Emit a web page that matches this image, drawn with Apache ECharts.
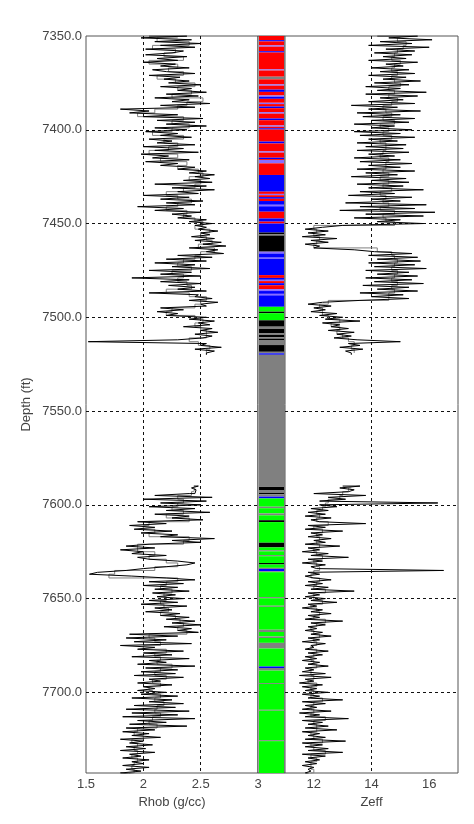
<!DOCTYPE html>
<html><head><meta charset="utf-8">
<script src="https://cdn.jsdelivr.net/npm/echarts@6/dist/echarts.min.js"></script>
<style>html,body{margin:0;padding:0;background:#fff}#c{width:474px;height:824px}</style>
</head><body><div id="c"></div>
<script>
// Depth range (ft)
const depthMin = 7350, depthMax = 7743, depthTickStep = 50;
const rhobTicks = [1.5, 2, 2.5, 3];
const zeffTicks = [12, 14, 16];

// Rhob (g/cc), black curve, 1 ft steps from 7350 to 7520, then from 7590 to 7745
const rhobUpperStart = 7350;
const rhobUpper = [
2.05,2.38,1.98,2.42,2.10,2.50,2.15,2.45,2.02,2.35,
2.25,2.02,2.38,2.12,2.30,2.00,2.28,2.15,2.40,2.08,
2.20,2.45,2.05,2.32,2.18,2.40,2.22,2.50,2.15,2.42,
2.30,2.55,2.20,2.48,2.10,2.40,2.25,2.58,2.15,2.45,
1.80,2.05,1.88,2.30,2.00,2.52,2.12,2.45,2.20,2.55,
2.10,2.38,2.02,2.30,2.15,2.42,2.05,2.25,2.12,2.45,
2.00,2.35,2.10,2.48,1.98,2.22,2.08,2.40,2.02,2.30,
2.15,2.45,2.30,2.55,2.40,2.62,2.45,2.58,2.35,2.60,
2.10,2.55,2.25,2.62,2.30,2.48,2.00,2.40,2.15,2.52,
2.20,2.45,1.95,2.35,2.10,2.50,2.25,2.42,2.30,2.55,
2.40,2.60,2.45,2.55,2.48,2.65,2.50,2.58,2.42,2.62,
2.45,2.68,2.52,2.72,2.40,2.65,2.55,2.70,2.30,2.60,
2.20,2.55,2.10,2.45,2.25,2.58,2.05,2.42,2.15,2.50,
1.90,2.40,2.15,2.50,2.22,2.45,2.30,2.55,2.05,2.48,
2.45,2.60,2.40,2.65,2.50,2.55,2.15,2.35,2.12,2.30,
2.20,2.55,2.40,2.62,2.48,2.58,2.35,2.60,2.50,2.65,
2.45,2.60,2.52,2.30,1.52,2.55,2.50,2.68,2.45,2.62,
2.55];
const rhobLowerStart = 7590;
const rhobLower = [
2.44,2.48,2.42,2.46,2.45,2.40,2.10,2.60,2.00,2.55,
2.15,2.50,2.05,2.45,2.20,2.58,2.10,2.40,2.25,2.52,
1.95,2.20,1.88,2.10,1.92,2.25,1.98,2.30,2.15,2.62,
2.25,2.50,2.05,1.85,2.10,1.80,2.00,1.90,2.20,1.95,
2.05,2.30,2.45,2.38,2.20,2.00,1.85,1.60,1.53,1.90,
2.20,2.45,2.05,2.35,2.00,2.30,2.10,2.40,2.08,2.28,
2.12,2.35,2.05,2.30,1.98,2.38,2.10,2.25,2.02,2.32,
2.15,2.40,2.20,2.45,2.25,2.50,2.18,2.42,2.30,2.48,
1.88,2.30,1.85,2.20,1.92,2.42,1.80,2.10,1.95,2.35,
2.00,2.25,1.90,2.40,2.05,2.20,1.95,2.45,2.02,2.30,
1.98,2.28,1.92,2.35,2.05,2.15,1.95,2.25,2.00,2.10,
1.95,2.20,1.98,2.30,1.90,2.25,2.05,2.35,1.92,2.28,
1.85,2.40,1.90,2.30,1.82,2.45,1.95,2.20,1.88,2.38,
1.85,2.10,1.82,2.05,1.90,2.15,1.80,2.00,1.88,2.08,
1.85,2.02,1.80,2.10,1.88,1.98,1.82,2.05,1.90,2.00,
1.82,2.05,1.85,1.98,1.80,1.95];

// Rhob, gray curve, 2 ft steps
const rhobGrayUpperStart = 7351;
const rhobGrayUpper = [
2.30,2.12,2.40,2.08,2.28, 2.18,2.35,2.05,2.30,2.22, 2.35,2.12,2.28,2.45,2.30,
2.42,2.25,2.52,2.38,2.30, 2.10,1.95,2.35,2.25,2.40, 2.25,2.08,2.35,2.18,2.30,
2.22,2.05,2.30,2.15,2.38, 2.30,2.48,2.52,2.40,2.50, 2.45,2.35,2.20,2.30,2.42,
2.30,2.20,2.38,2.35,2.45, 2.52,2.45,2.58,2.50,2.55, 2.60,2.48,2.62,2.50,2.45,
2.35,2.30,2.42,2.25,2.35, 2.30,2.38,2.42,2.20,2.40, 2.55,2.50,2.45,2.25,2.20,
2.45,2.52,2.45,2.50,2.55, 2.55,2.40,2.48,2.58,2.55];
const rhobGrayLowerStart = 7591;
const rhobGrayLower = [
2.45,2.44,2.42,2.30,2.35, 2.30,2.25,2.35,2.20,2.40, 2.05,2.00,2.10,2.05,2.40,
2.35,1.95,1.95,2.10,2.05, 2.20,2.30,2.10,1.75,1.70, 2.30,2.20,2.15,2.25,2.18,
2.20,2.15,2.18,2.22,2.15, 2.28,2.32,2.35,2.30,2.38, 2.05,2.10,2.15,2.00,2.20,
2.10,2.15,2.12,2.25,2.15, 2.10,2.20,2.08,2.15,2.05, 2.08,2.15,2.10,2.18,2.12,
2.10,2.15,2.08,2.05,2.12, 1.95,1.92,2.00,1.90,1.95, 1.92,1.95,1.90,1.95,1.92,
1.90,1.92,1.88];

// Zeff, black curve, 1 ft steps
const zeffUpperStart = 7350;
const zeffUpper = [
14.2,15.6,14.6,16.1,14.3,15.4,13.9,16.0,14.5,15.5,
14.1,15.4,14.4,15.2,13.9,15.6,14.5,15.1,14.0,15.3,
14.3,15.5,13.9,15.2,14.4,15.7,14.1,15.3,13.8,15.0,
14.2,15.9,13.8,15.6,14.3,15.1,13.9,15.5,13.3,14.9,
13.9,15.7,13.5,15.0,13.7,15.5,14.0,15.3,13.4,14.8,
14.0,15.4,13.4,15.0,13.6,15.5,13.9,14.9,13.5,15.2,
13.8,15.1,13.5,15.3,13.9,14.8,13.4,15.0,13.6,15.4,
13.9,15.0,13.5,15.5,13.8,14.9,13.3,15.2,14.0,15.3,
13.5,15.1,13.9,15.8,13.6,14.8,13.2,15.4,14.0,15.0,
13.1,15.9,13.6,15.5,12.9,16.2,13.8,15.8,13.4,15.0,
14.2,15.8,13.0,12.3,11.7,12.5,11.8,12.4,11.6,12.8,
11.9,12.5,11.7,12.2,12.0,13.4,14.1,15.4,13.9,15.6,
14.2,15.7,13.9,15.5,14.1,15.9,13.8,15.3,14.2,15.6,
13.8,15.4,14.1,15.8,13.7,15.3,14.2,15.6,13.6,15.1,
14.0,15.3,13.6,12.3,11.8,12.6,12.0,12.4,11.9,12.8,
12.2,13.0,12.4,13.6,12.3,12.9,12.6,13.2,12.5,13.4,
12.8,13.3,12.7,13.5,15.0,13.2,13.6,12.9,13.7,13.1,
13.3];
const zeffLowerStart = 7590;
const zeffLower = [
13.0,13.6,12.9,13.4,13.2,12.0,13.8,12.5,13.1,12.2,
16.3,12.2,12.8,11.9,12.5,11.8,12.4,11.7,12.6,11.9,
12.2,13.8,11.8,12.4,11.7,13.0,11.9,12.3,11.8,12.6,
12.0,12.4,11.7,12.9,11.8,12.2,11.6,12.5,11.9,13.2,
11.8,12.3,11.6,12.4,11.9,12.1,16.5,11.8,12.2,11.7,
12.0,12.6,11.8,12.3,11.7,12.5,11.9,13.4,11.8,12.2,
11.7,12.4,11.9,12.8,11.8,12.1,11.6,12.3,11.9,12.6,
11.8,12.2,11.7,13.0,11.9,12.4,11.8,12.1,11.7,12.3,
11.9,12.6,11.8,12.2,11.6,12.4,11.9,12.0,11.7,12.5,
11.8,12.3,11.7,12.1,11.6,12.2,11.8,12.5,11.7,12.0,
11.6,12.4,11.5,12.6,11.7,12.0,11.5,12.3,11.6,12.1,
11.7,12.5,11.6,12.2,11.8,13.0,11.6,12.4,11.7,12.1,
11.6,12.6,11.5,12.2,11.7,13.2,11.6,12.3,11.8,12.5,
11.7,12.8,11.6,12.2,11.8,12.4,11.7,13.1,11.6,12.3,
11.7,12.5,11.8,13.0,11.6,12.4,11.8,12.2,11.7,12.1,
11.6,12.0,11.8,11.9,11.7,11.9];

// Zeff, gray curve, 2 ft steps
const zeffGrayUpperStart = 7351;
const zeffGrayUpper = [
15.0,14.9,15.2,15.1,14.9, 14.8,14.7,15.0,14.8,14.7, 14.9,14.7,14.8,15.0,14.6,
14.8,14.6,14.9,14.7,14.4, 14.5,14.7,14.4,14.8,14.3, 14.6,14.4,14.7,14.3,14.5,
14.5,14.4,14.3,14.6,14.5, 14.5,14.4,14.6,14.3,14.6, 14.4,14.7,14.3,14.5,14.4,
14.6,14.3,14.8,14.4,14.5, 14.8,12.0,12.1,12.0,12.2, 12.1,12.0,14.2,14.7,14.8,
14.9,14.8,14.7,14.9,14.8, 14.7,14.9,14.7,14.8,14.6, 14.6,12.5,12.2,12.3,12.3,
12.5,12.9,12.6,12.9,12.8, 13.0,13.2,13.4,13.3,13.4];
const zeffGrayLowerStart = 7591;
const zeffGrayLower = [
13.3,13.2,13.0,12.9,12.5, 12.4,12.3,12.1,12.2,12.1, 12.5,12.0,12.3,12.1,12.2,
12.1,12.2,12.0,12.1,12.3, 12.0,12.1,12.2,12.0,11.9, 12.2,12.1,12.0,12.4,12.0,
12.0,12.3,11.9,12.1,12.2, 12.0,12.4,12.1,11.9,12.0, 12.2,12.0,12.1,11.9,12.1,
12.0,11.9,12.0,12.1,11.9, 11.9,12.0,11.8,12.1,11.9, 12.0,11.9,12.3,12.0,11.9,
12.0,11.9,12.4,12.0,12.1, 12.1,11.9,12.0,12.3,11.9, 12.0,12.4,11.9,12.1,11.9,
11.9,12.0,11.9];

// Facies column: top, base (ft), code
const faciesTop = [
7350,7352.2,7352.9,7355.0,7355.7,7358.1,7358.8,7367.8,7368.4,7371.7,7373.1,7375.8,7376.5,7378.6,7379.8,7381.7,7382.4,7383.5,7385.6,7386.3,
7387.6,7388.5,7390.6,7391.4,7394.0,7394.9,7397.7,7398.4,7399.2,7399.9,7406.3,7407.3,7411.5,7412.2,7414.9,7415.6,7416.1,7417.9,7424.1,7433.0,
7434.2,7434.9,7435.9,7436.8,7438.0,7440.0,7440.8,7443.7,7447.3,7449.0,7450.0,7454.8,7455.8,7456.4,7465.0,7466.0,7468.2,7468.8,7477.5,7479.0,
7480.0,7480.7,7481.8,7482.9,7485.0,7486.0,7487.5,7488.3,7494.4,7497.0,7497.8,7501.6,7505.0,7506.2,7508.6,7509.4,7510.6,7511.4,7512.1,7514.8,
7518.4,7519.2,7520.0,7590.4,7592.1,7593.6,7594.4,7595.6,7596.6,7601.0,7601.8,7604.6,7605.6,7608.2,7609.2,7620.2,7622.7,7624.2,7624.8,7626.8,
7627.4,7631.0,7631.8,7633.6,7634.2,7635.4,7635.9,7649.2,7649.8,7653.8,7654.4,7666.6,7667.8,7670.2,7671.0,7673.6,7676.6,7686.2,7687.0,7688.4,
7695.0,7695.5,7709.3,7709.8,7725.5,7726.0];
const faciesBase = [
7352.2,7352.9,7355.0,7355.7,7358.1,7358.8,7367.8,7368.4,7371.7,7373.1,7375.8,7376.5,7378.6,7379.8,7381.7,7382.4,7383.5,7385.6,7386.3,7387.6,
7388.5,7390.6,7391.4,7394.0,7394.9,7397.7,7398.4,7399.2,7399.9,7406.3,7407.3,7411.5,7412.2,7414.9,7415.6,7416.1,7417.9,7424.1,7433.0,7434.2,
7434.9,7435.9,7436.8,7438.0,7440.0,7440.8,7443.7,7447.3,7449.0,7450.0,7454.8,7455.8,7456.4,7465.0,7466.0,7468.2,7468.8,7477.5,7479.0,7480.0,
7480.7,7481.8,7482.9,7485.0,7486.0,7487.5,7488.3,7494.4,7497.0,7497.8,7501.6,7505.0,7506.2,7508.6,7509.4,7510.6,7511.4,7512.1,7514.8,7518.4,
7519.2,7520.0,7590.4,7592.1,7593.6,7594.4,7595.6,7596.6,7601.0,7601.8,7604.6,7605.6,7608.2,7609.2,7620.2,7622.7,7624.2,7624.8,7626.8,7627.4,
7631.0,7631.8,7633.6,7634.2,7635.4,7635.9,7649.2,7649.8,7653.8,7654.4,7666.6,7667.8,7670.2,7671.0,7673.6,7676.6,7686.2,7687.0,7688.4,7695.0,
7695.5,7709.3,7709.8,7725.5,7726.0,7743];
const faciesCode = [
'R','B','R','L','R','B','R','L','R','G','R','L','R','B','R','L','B','R','L','R',
'B','R','L','R','B','R','L','R','B','R','B','R','L','R','B','R','L','R','B','R',
'L','R','B','R','B','L','B','R','B','R','B','K','G','K','L','B','L','B','R','B',
'L','R','B','R','L','B','L','B','N','K','N','K','G','K','G','K','G','K','G','K',
'G','B','G','K','G','K','G','B','N','G','N','G','N','K','N','K','N','G','N','G',
'N','K','N','G','B','G','N','G','N','G','N','G','N','G','N','G','N','B','G','N',
'G','N','G','N','G','N'];
const faciesColors = {R:'#ff0000', B:'#0000ff', L:'#8a6cff', K:'#000000', G:'#808080', N:'#00ff00'};

function pairs(vals, start, step) { return vals.map((v, i) => [v, start + i * step]); }
function curve(name, vals, start, step, gi, color) {
  return {type:'line', name, xAxisIndex:gi, yAxisIndex:gi, data:pairs(vals, start, step),
    step:'end', showSymbol:false, symbol:'none', clip:true, animation:false,
    lineStyle:{color, width:1}, z: color === '#000000' ? 4 : 3};
}

const font = 'Liberation Sans, Arial, sans-serif';
const txt = '#444';
const gridLine = {show:true, showMinLine:false, showMaxLine:false, lineStyle:{type:[3,3], color:'#111', width:1}};
const yBase = {type:'value', min:depthMin, max:depthMax, interval:depthTickStep, inverse:true,
  axisLine:{show:false}, axisTick:{show:false}};

const chart = echarts.init(document.getElementById('c'), null, {renderer:'canvas'});
chart.setOption({
  animation:false,
  backgroundColor:'#fff',
  textStyle:{fontFamily:font},
  grid:[
    {left:86, top:36, width:172, height:737, show:true, borderColor:'#555', borderWidth:1, backgroundColor:'#fff'},
    {left:258, top:36, width:27, height:737, show:true, borderColor:'#444', borderWidth:1, backgroundColor:'#fff'},
    {left:285, top:36, width:173, height:737, show:true, borderColor:'#555', borderWidth:1, backgroundColor:'#fff'}
  ],
  xAxis:[
    {gridIndex:0, type:'value', min:rhobTicks[0], max:rhobTicks[rhobTicks.length-1], interval:0.5,
      name:'Rhob (g/cc)', nameLocation:'middle', nameGap:21,
      nameTextStyle:{fontSize:13, color:txt, fontFamily:font, fontWeight:'normal'},
      axisLine:{show:false}, axisTick:{show:false},
      axisLabel:{fontSize:13, color:txt, margin:5, fontFamily:font, fontWeight:'normal', formatter:v => String(v)},
      splitLine:gridLine},
    {gridIndex:1, type:'value', min:0, max:1, show:false},
    {gridIndex:2, type:'value', min:11, max:17, interval:1,
      name:'Zeff', nameLocation:'middle', nameGap:21,
      nameTextStyle:{fontSize:13, color:txt, fontFamily:font, fontWeight:'normal'},
      axisLine:{show:false}, axisTick:{show:false, customValues:zeffTicks},
      axisLabel:{fontSize:13, color:txt, margin:5, fontFamily:font, fontWeight:'normal', customValues:zeffTicks, formatter:v => String(v)},
      splitLine:gridLine}
  ],
  yAxis:[
    Object.assign({}, yBase, {gridIndex:0, name:'Depth (ft)', nameLocation:'middle', nameGap:53,
      nameTextStyle:{fontSize:13, color:txt, fontFamily:font, fontWeight:'normal'},
      axisLabel:{fontSize:13, color:txt, margin:4, fontFamily:font, fontWeight:'normal', showMaxLabel:false, formatter:v => v.toFixed(1)},
      splitLine:gridLine}),
    Object.assign({}, yBase, {gridIndex:1, show:false}),
    Object.assign({}, yBase, {gridIndex:2, axisLabel:{show:false}, splitLine:gridLine})
  ],
  series:[
    curve('Rhob gray upper', rhobGrayUpper, rhobGrayUpperStart, 2, 0, '#808080'),
    curve('Rhob gray lower', rhobGrayLower, rhobGrayLowerStart, 2, 0, '#808080'),
    curve('Rhob upper', rhobUpper, rhobUpperStart, 1, 0, '#000000'),
    curve('Rhob lower', rhobLower, rhobLowerStart, 1, 0, '#000000'),
    curve('Zeff gray upper', zeffGrayUpper, zeffGrayUpperStart, 2, 2, '#808080'),
    curve('Zeff gray lower', zeffGrayLower, zeffGrayLowerStart, 2, 2, '#808080'),
    curve('Zeff upper', zeffUpper, zeffUpperStart, 1, 2, '#000000'),
    curve('Zeff lower', zeffLower, zeffLowerStart, 1, 2, '#000000'),
    {type:'custom', name:'Facies', xAxisIndex:1, yAxisIndex:1, clip:true, animation:false,
      data: faciesTop.map((t, i) => [0.5, t, faciesBase[i], i]),
      encode:{x:0, y:[1,2]},
      renderItem:(params, api) => {
        const p1 = api.coord([0, api.value(1)]);
        const p2 = api.coord([1, api.value(2)]);
        const code = faciesCode[api.value(3)];
        return {type:'rect', shape:{x:p1[0]+1, y:p1[1], width:p2[0]-p1[0]-2, height:p2[1]-p1[1]},
          style:{fill:faciesColors[code]}};
      }}
  ]
});
</script>
</body></html>
